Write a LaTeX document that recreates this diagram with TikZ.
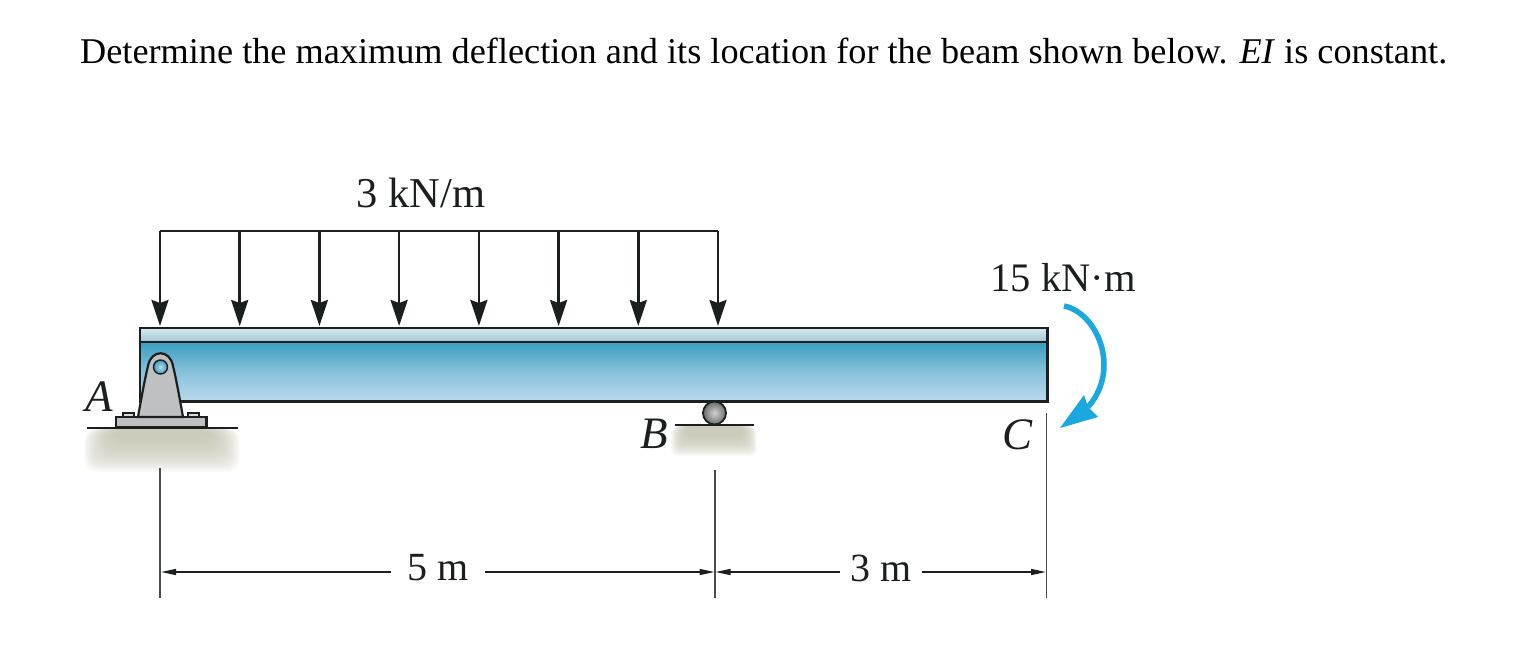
\documentclass[tikz,border=0pt]{standalone}
\usepackage{fontspec}
\setmainfont{Liberation Serif}
\usetikzlibrary{arrows.meta,shadings}
\definecolor{ink}{HTML}{1C1F20}
\definecolor{beamtop}{HTML}{3A9DC0}
\definecolor{beambot}{HTML}{B8D8EC}
\definecolor{striplight}{HTML}{B5D9E9}
\definecolor{arrowblue}{HTML}{1BA7E0}
\definecolor{metal}{HTML}{BFC0C2}
\definecolor{ground}{HTML}{C4C3B0}
\tikzset{
  txt/.style={inner sep=0pt,text=ink,font=\fontsize{42.5}{46}\selectfont},
  momtxt/.style={inner sep=0pt,text=ink,font=\fontsize{40.5}{44}\selectfont},
  dimtxt/.style={inner sep=0pt,text=ink,font=\fontsize{40}{44}\selectfont},
  lettertxt/.style={inner sep=0pt,text=ink,font=\fontsize{45}{48}\selectfont\itshape},
  title/.style={inner sep=0pt,text=black,font=\fontsize{36.25}{40}\selectfont,anchor=base west},
  load/.style={draw=ink,line width=2.6pt,-{Stealth[length=26pt,width=17pt,inset=3pt]}},
  dim/.style={draw=ink,line width=1.4pt,-{Triangle[length=15pt,width=6pt]}},
  tick/.style={draw=ink!80,line width=1.5pt},
  metalpart/.style={draw=ink,line width=2.2pt,fill=metal},
}
\begin{document}
\begin{tikzpicture}[x=1pt,y=-1pt]
\useasboundingbox (0,0) rectangle (1538,659);
\node[title] (title) at (80,63) {Determine the maximum deflection and its location for the beam shown below. \textit{EI} is constant.};
% ground shadows
\foreach \i in {0,...,25}{
  \fill[ground,opacity=0.07,rounded corners=12pt] (84+\i*1.2,429) -- (84+\i*1.2,472-\i*1.3) -- (240-\i*1.2,472-\i*1.3) -- (240-\i*1.2,429) -- cycle;
  \fill[ground,opacity=0.07,rounded corners=7pt] (671+\i*0.6,426) -- (671+\i*0.6,456-\i*0.8) -- (757-\i*0.6,456-\i*0.8) -- (757-\i*0.6,426) -- cycle;
}
% beam
\node[minimum width=907pt,minimum height=73pt,inner sep=0pt,anchor=north west] (beam) at (140,328) {};
\shade[top color=beamtop,bottom color=beambot,middle color=beamtop!40!beambot] (141,342) rectangle (1046,400);
\shade[top color=striplight!60!white,bottom color=striplight!90!black] (141,329) rectangle (1046,342);
\draw[ink,line width=1.6pt] (beam.north west|-0,342) -- (beam.north east|-0,342);
\draw[ink,line width=2.2pt] (beam.south west) rectangle (beam.north east);
% load
\coordinate (l1) at (160,231); \coordinate (l8) at (718,231);
\draw[ink,line width=2.4pt] (l1) -- (l8);
\foreach \x/\n in {160/1,239.7/2,319.4/3,399.1/4,478.9/5,558.6/6,638.3/7,718/8}{
  \coordinate (t\n) at (\x,231);
  \coordinate (h\n) at (\x,326);
  \draw[load] (t\n) -- (h\n);
}
\node[txt] (w) at (421,193) {3 kN/m};
% pin support A
\draw[ink,line width=1.4pt,fill=metal!60] (123,413) rectangle (134,418);
\draw[ink,line width=1.4pt,fill=metal!60] (188,413) rectangle (199,418);
\draw[metalpart] (116,417) rectangle (206.5,427);
\draw[metalpart] (138,417) .. controls (141,400) and (145,378) .. (148,366)
   .. controls (151,349) and (170,349) .. (173,366)
   .. controls (176,378) and (180,400) .. (183,417) -- cycle;
\node[circle,draw=ink,line width=1.4pt,inner color=beambot,outer color=beamtop,minimum size=14pt,inner sep=0pt] (pin) at (160.5,367) {};
\draw[ink,line width=2.2pt] (87,428) -- (238,428);
\node[lettertxt] (A) at (99,397) {A};
% roller B
\node[circle,draw=ink,line width=1.8pt,inner color=gray!35,outer color=gray!85!black,minimum size=23pt,inner sep=0pt] (roller) at (714.5,413) {};
\draw[ink,line width=2.2pt] (675,425) -- (754,425);
\node[lettertxt] (B) at (654,434) {B};
% C
\node[lettertxt] (C) at (1017,435) {C};
% moment
\node[momtxt] (M) at (1063,278) {15 kN·m};
\coordinate (m1) at (1064,306); \coordinate (m2) at (1088,407);
\draw[arrowblue,line width=5.5pt] (m1) .. controls (1096,312) and (1122,368) .. (m2);
\fill[arrowblue] (1060,428) -- (1084,395) -- (1088,407) -- (1098,417) -- cycle;
% dimension lines
\coordinate (a0) at (160,468); \coordinate (a1) at (160,598);
\coordinate (b0) at (715,470); \coordinate (b1) at (715,598);
\coordinate (c0) at (1046.5,413); \coordinate (c1) at (1046.5,598);
\draw[tick] (a0) -- (a1); \draw[tick] (b0) -- (b1); \draw[tick] (c0) -- (c1);
\coordinate (da) at (161,572); \coordinate (db) at (714.5,572); \coordinate (dbr) at (715.5,572); \coordinate (dc) at (1046,572);
\node[dimtxt,inner xsep=16pt] (d5) at (438,568) {5 m};
\node[dimtxt,inner xsep=10pt] (d3) at (881,568) {3 m};
\draw[dim] (d5.west|-da) -- (da);
\draw[dim] (d5.east|-da) -- (db);
\draw[dim] (d3.west|-da) -- (dbr);
\draw[dim] (d3.east|-da) -- (dc);
\end{tikzpicture}
\end{document}
